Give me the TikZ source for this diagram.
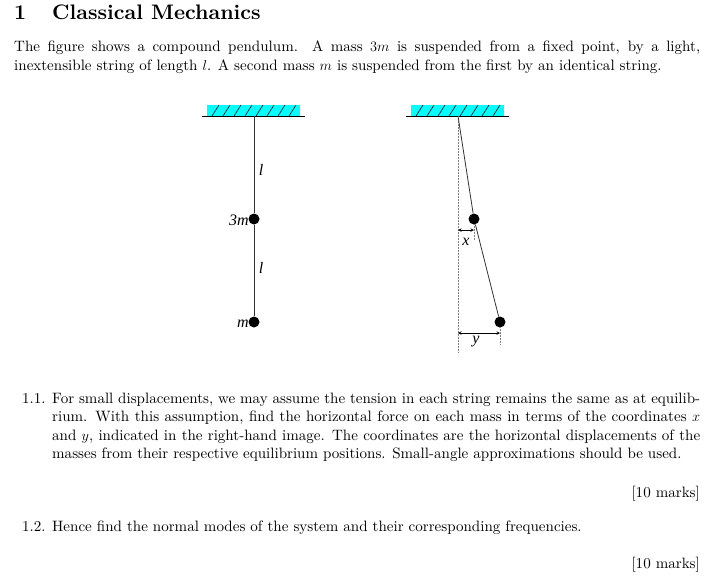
\documentclass[tikz,border=0pt]{standalone}
\usepackage{fontspec}
\setmainfont{lmroman10-regular.otf}[BoldFont=lmroman10-bold.otf,ItalicFont=lmroman10-italic.otf]
\newfontfamily\tnr{Liberation Serif}
\definecolor{aqua}{RGB}{0,255,255}
\tikzset{
 txt/.style={anchor=base west,inner sep=0pt,font=\fontsize{15.05}{18.6}\selectfont},
 par/.style={txt,text width=648pt,align=justify},
 lab/.style={inner sep=0pt,font=\tnr\itshape\fontsize{16}{16}\selectfont},
 mass/.style={circle,fill=black,minimum size=11pt,inner sep=0pt},
 str/.style={line width=0.8pt,black!80},
 guide/.style={densely dotted,gray,line width=0.5pt},
 dim/.style={<->,>=stealth,line width=0.6pt}
}
\begin{document}
\begin{tikzpicture}[x=1pt,y=-1pt]
\useasboundingbox (0,0) rectangle (727,584);
\node[txt,font=\fontsize{21}{25}\bfseries] (h1) at (14,19) {1};
\node[txt,font=\fontsize{21}{25}\bfseries] (h2) at (52,19) {Classical Mechanics};
\node[par,text width=686pt,anchor=north west] (p0) at (14,41) {The figure shows a compound pendulum. A mass $3m$ is suspended from a fixed point, by a light, inextensible string of length $l$. A second mass $m$ is suspended from the first by an identical string.};
% left pendulum
\fill[aqua] (207,105) rectangle (300,116);
\foreach \i in {0,...,7} \draw[line width=0.6pt] (212+\i*11,116) -- (219+\i*11,105);
\draw[line width=0.8pt] (202,116) -- (305,116);
\coordinate (P1) at (254,116);
\node[mass] (A1) at (254,219) {};
\node[mass] (B1) at (254,322) {};
\draw[str] (P1) -- (A1) -- (B1);
\node[lab] (l1) at (261,170) {l};
\node[lab] (l2) at (261,268) {l};
\node[lab,anchor=east] (m3) at (249,220) {3m};
\node[lab,anchor=east] (m1) at (249,324) {m};
% right pendulum
\fill[aqua] (411,105) rectangle (504,116);
\foreach \i in {0,...,7} \draw[line width=0.6pt] (416+\i*11,116) -- (423+\i*11,105);
\draw[line width=0.8pt] (406,116) -- (509,116);
\coordinate (P2) at (458,116);
\coordinate (G2) at (458,352);
\node[mass] (A2) at (474,219) {};
\node[mass] (B2) at (500,322) {};
\draw[guide] (P2) -- (G2);
\draw[str] (P2) -- (A2) -- (B2);
\coordinate (xa) at (458,230); \coordinate (xb) at (474,230);
\coordinate (ya) at (458,333); \coordinate (yb) at (500,333);
\draw[guide] (474,224) -- (474,240);
\draw[guide] (500,327) -- (500,345);
\draw[dim] (xa) -- (xb);
\draw[dim] (ya) -- (yb);
\node[lab] (xl) at (466,242) {x};
\node[lab] (yl) at (476,342) {y};
% questions
\node[txt] (q1) at (22,403.5) {1.1.};
\node[par,anchor=north west] (q1t) at (52,392.5) {For small displacements, we may assume the tension in each string remains the same as at equilibrium. With this assumption, find the horizontal force on each mass in terms of the coordinates $x$ and $y$, indicated in the right-hand image. The coordinates are the horizontal displacements of the masses from their respective equilibrium positions. Small-angle approximations should be used.};
\node[txt,anchor=base east] (mk1) at (700,497) {[10 marks]};
\node[txt] (q2) at (22,531) {1.2.};
\node[txt] (q2t) at (52,531) {Hence find the normal modes of the system and their corresponding frequencies.};
\node[txt,anchor=base east] (mk2) at (700,568) {[10 marks]};
\end{tikzpicture}
\end{document}
